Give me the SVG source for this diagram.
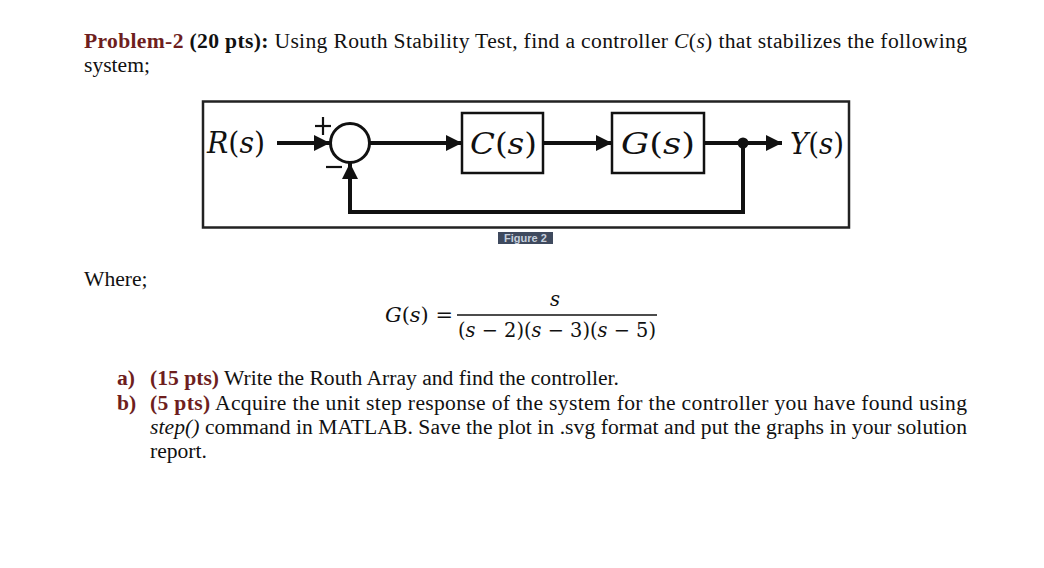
<svg xmlns="http://www.w3.org/2000/svg" width="1044" height="568" viewBox="0 0 1044 568">
<style>
.t{font-family:"Liberation Serif","Times New Roman",serif;font-size:21.6px;fill:#111}
.b{font-weight:bold}
.red{fill:#6e1e1e}
.m{font-family:"DejaVu Serif","Liberation Serif",serif;fill:#111}
.i{font-style:italic}
.lbl{font-family:"DejaVu Serif","Liberation Serif",serif;font-size:30px;fill:#111}
.ln{stroke:#111;stroke-width:4;fill:none}
.box{stroke:#111;stroke-width:2.5;fill:#fff}
</style>
<defs>
<marker id="ah" viewBox="0 0 10 10" refX="10" refY="5" markerWidth="4" markerHeight="4" orient="auto" markerUnits="strokeWidth">
<path d="M0,0 L10,5 L0,10 z" fill="#111"/>
</marker>
</defs>
<rect width="1044" height="568" fill="#fff"/>

<text class="t" x="84" y="48" textLength="883" lengthAdjust="spacing"><tspan class="b red">Problem-2</tspan><tspan class="b"> (20 pts):</tspan> Using Routh Stability Test, find a controller <tspan class="i">C</tspan>(<tspan class="i">s</tspan>) that stabilizes the following</text>
<text class="t" x="84" y="72">system;</text>

<rect x="203" y="101.5" width="646" height="126" fill="none" stroke="#222" stroke-width="2.5"/>

<g id="connectors">
<line class="ln" x1="277" y1="143" x2="330" y2="143" marker-end="url(#ah)"/>
<line class="ln" x1="369" y1="143" x2="462" y2="143" marker-end="url(#ah)"/>
<line class="ln" x1="543" y1="143" x2="612" y2="143" marker-end="url(#ah)"/>
<line class="ln" x1="704" y1="143" x2="782" y2="143" marker-end="url(#ah)"/>
<polyline class="ln" points="743,143 743,212 350,212 350,163" marker-end="url(#ah)"/>
<circle cx="743" cy="143" r="5.5" fill="#111"/>
</g>

<g id="input"><text class="lbl" x="207" y="153" textLength="58" lengthAdjust="spacingAndGlyphs"><tspan class="i">R</tspan>(<tspan class="i">s</tspan>)</text></g>
<g id="sum">
<circle cx="350" cy="143" r="19.5" fill="#fff" stroke="#111" stroke-width="3"/>
<line x1="315" y1="126" x2="331" y2="126" stroke="#111" stroke-width="2.2"/>
<line x1="323" y1="117" x2="323" y2="135" stroke="#111" stroke-width="2.2"/>
<line x1="326" y1="167" x2="342" y2="167" stroke="#111" stroke-width="2.2"/>
</g>
<g id="C"><rect class="box" x="462" y="113" width="81" height="60"/><text class="lbl" x="470" y="154" textLength="67" lengthAdjust="spacingAndGlyphs"><tspan class="i">C</tspan>(<tspan class="i">s</tspan>)</text></g>
<g id="G"><rect class="box" x="612" y="113" width="92" height="60"/><text class="lbl" x="621" y="154" textLength="74" lengthAdjust="spacingAndGlyphs"><tspan class="i">G</tspan>(<tspan class="i">s</tspan>)</text></g>
<g id="output"><text class="lbl" x="790" y="154" textLength="54" lengthAdjust="spacingAndGlyphs"><tspan class="i">Y</tspan>(<tspan class="i">s</tspan>)</text></g>

<g id="caption">
<rect x="498" y="232" width="55" height="12" fill="#3f4a5e"/>
<text x="525.5" y="242" font-family="Liberation Sans, Arial, sans-serif" font-size="11" font-weight="bold" fill="#c6cfdc" text-anchor="middle">Figure 2</text>
</g>

<text class="t" x="84" y="286">Where;</text>

<g id="eq">
<text class="m" x="385" y="322" font-size="19.5" textLength="68" lengthAdjust="spacingAndGlyphs"><tspan class="i">G</tspan>(<tspan class="i">s</tspan>) =</text>
<text class="m i" x="555" y="306" font-size="19.5" text-anchor="middle">s</text>
<line x1="457" y1="315" x2="657" y2="315" stroke="#111" stroke-width="1.5"/>
<text class="m" x="458" y="337" font-size="19.5" textLength="198" lengthAdjust="spacingAndGlyphs">(<tspan class="i">s</tspan> − 2)(<tspan class="i">s</tspan> − 3)(<tspan class="i">s</tspan> − 5)</text>
</g>

<text class="t b red" x="117" y="385">a)</text>
<text class="t" x="150" y="385"><tspan class="b red">(15 pts)</tspan> Write the Routh Array and find the controller.</text>
<text class="t b red" x="117" y="410">b)</text>
<text class="t" x="150" y="410" textLength="817" lengthAdjust="spacing"><tspan class="b red">(5 pts)</tspan> Acquire the unit step response of the system for the controller you have found using</text>
<text class="t" x="150" y="434" textLength="817" lengthAdjust="spacing"><tspan class="i">step()</tspan> command in MATLAB. Save the plot in .svg format and put the graphs in your solution</text>
<text class="t" x="150" y="458">report.</text>
</svg>
